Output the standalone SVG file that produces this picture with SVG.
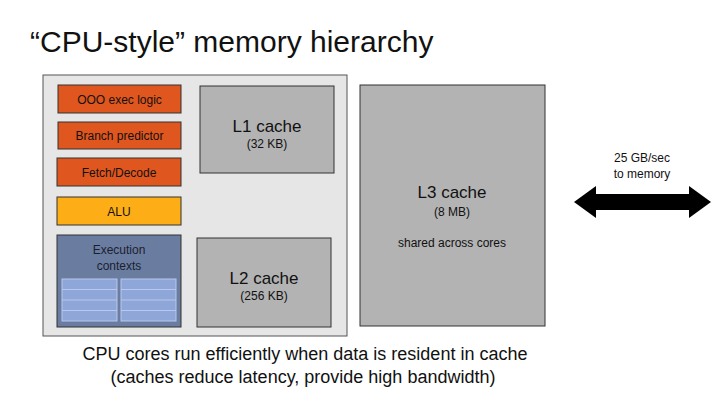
<svg xmlns="http://www.w3.org/2000/svg" width="728" height="410" viewBox="0 0 728 410">
<style>
text{font-family:"Liberation Sans",Arial,sans-serif;text-anchor:middle;fill:#111}
.unit{stroke:#333;stroke-width:1}
.org{fill:#e0561f}
.cache{fill:#b3b3b3;stroke:#333;stroke-width:1}
.s{font-size:12px}
.grid{fill:#8fa6d8;stroke:#b8c8ee;stroke-width:1}
</style>
<rect width="728" height="410" fill="#fff"/>
<text x="30" y="52" style="font-size:30px;text-anchor:start">“CPU-style” memory hierarchy</text>
<g id="core"><rect x="43" y="75" width="304" height="261" fill="#e6e6e6" stroke="#555"/></g>
<g id="ooo"><rect class="unit org" x="58" y="85" width="123" height="28"/><text class="s" x="119.5" y="104">OOO exec logic</text></g>
<g id="branch"><rect class="unit org" x="58" y="122" width="123" height="27"/><text class="s" x="119.5" y="140">Branch predictor</text></g>
<g id="fetch"><rect class="unit org" x="57" y="158" width="124" height="28"/><text class="s" x="119" y="177">Fetch/Decode</text></g>
<g id="alu"><rect class="unit" x="57" y="197" width="124" height="28" fill="#fdae17"/><text class="s" x="119" y="216">ALU</text></g>
<g id="exec"><rect class="unit" x="57" y="235" width="124" height="92" fill="#6a7da0"/>
<text class="s" x="119" y="254" style="fill:#1a1f30">Execution</text><text class="s" x="119" y="270" style="fill:#1a1f30">contexts</text>
<rect class="grid" x="62" y="279" width="55" height="42"/><rect class="grid" x="121" y="279" width="55" height="42"/>
<path d="M62 289.5H117M62 300H117M62 310.5H117M121 289.5H176M121 300H176M121 310.5H176" stroke="#b8c8ee"/></g>
<g id="l1"><rect class="cache" x="200" y="86" width="134" height="87"/><text x="267" y="132" style="font-size:17px">L1 cache</text><text class="s" x="267" y="148">(32 KB)</text></g>
<g id="l2"><rect class="cache" x="197" y="238" width="134" height="89"/><text x="264" y="284" style="font-size:17px">L2 cache</text><text class="s" x="264" y="300">(256 KB)</text></g>
<g id="l3"><rect class="cache" x="360" y="85" width="185" height="241"/><text x="452" y="198" style="font-size:17px">L3 cache</text><text class="s" x="452" y="216">(8 MB)</text><text class="s" x="452" y="247">shared across cores</text></g>
<g id="connectors"><path d="M574 202L596 186V194H689V186L711 202L689 218V210H596V218Z" fill="#000"/></g>
<text class="s" x="642" y="162">25 GB/sec</text><text class="s" x="642" y="178">to memory</text>
<text x="305" y="360" style="font-size:18px">CPU cores run efficiently when data is resident in cache</text>
<text x="303" y="383" style="font-size:18px">(caches reduce latency, provide high bandwidth)</text>
</svg>
